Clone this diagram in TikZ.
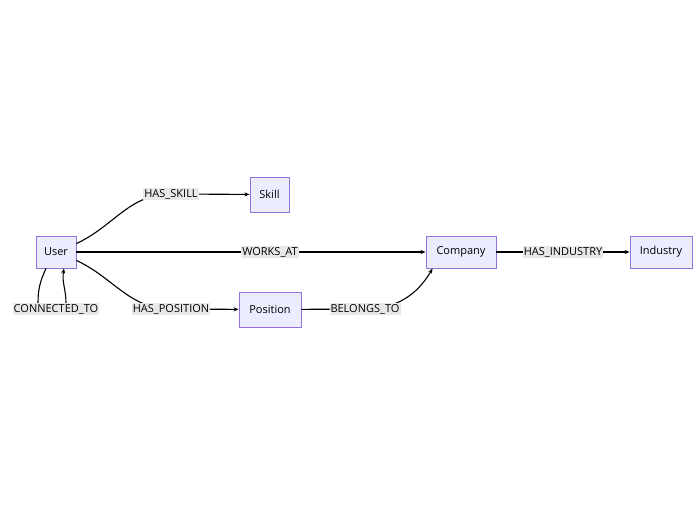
\documentclass[tikz,border=0pt]{standalone}
\usepackage{fontspec}
\setmainfont{Open Sans}
\usetikzlibrary{positioning,calc,arrows.meta}
\definecolor{boxfill}{HTML}{ECECFF}
\definecolor{boxline}{HTML}{9370DB}
\definecolor{lblfill}{HTML}{E8E8E8}
\tikzset{
  entity/.style={draw=boxline,fill=boxfill,line width=0.9pt,inner sep=0pt,font=\fontsize{11}{13}\selectfont},
  rel/.style={fill=lblfill,inner sep=1pt,font=\fontsize{11}{13}\selectfont},
  link/.style={line width=1.1pt,-{Stealth[length=5pt,width=4pt]}},
  plain/.style={line width=1.1pt}
}
\begin{document}
\begin{tikzpicture}[x=1pt,y=-1pt]
\useasboundingbox (0,0) rectangle (700,507);
% entities
\node[entity,minimum width=40,minimum height=32] (user) at (56,252) {User};
\node[entity,minimum width=39,minimum height=35] (skill) at (269.5,194.5) {Skill};
\node[entity,minimum width=70,minimum height=32] (company) at (461,252) {Company};
\node[entity,minimum width=62,minimum height=32] (industry) at (661,252) {Industry};
\node[entity,minimum width=62,minimum height=35] (position) at (270,309.5) {Position};
% label spots
\coordinate (hs) at (171,194);
\coordinate (wa) at (270,252);
\coordinate (hi) at (563,252);
\coordinate (hp) at (171,309);
\coordinate (bt) at (365,309);
\coordinate (ct) at (56,309);
% relations
\draw[link] (user.north east) ++(0,8) to[out=25,in=180] (hs) -- (skill);
\draw[link] (user) -- (wa) -- (company);
\draw[link] (company) -- (hi) -- (industry);
\draw[link] (user.south east) ++(0,-8) to[out=-25,in=180] (hp) -- (position);
\draw[link] (position) -- (bt) to[out=0,in=-120] ($(company.south west)+(7,0)$);
\draw[plain] ($(user.south)+(-10,0)$) to[out=-115,in=90] ($(ct)+(-18,-6)$);
\draw[link] ($(ct)+(10,-6)$) to[out=90,in=-100] ($(user.south)+(8,0)$);
% labels
\node[rel] at (hs) {HAS\_SKILL};
\node[rel] at (wa) {WORKS\_AT};
\node[rel] at (hi) {HAS\_INDUSTRY};
\node[rel] at (hp) {HAS\_POSITION};
\node[rel] at (bt) {BELONGS\_TO};
\node[rel] at (ct) {CONNECTED\_TO};
\end{tikzpicture}
\end{document}
